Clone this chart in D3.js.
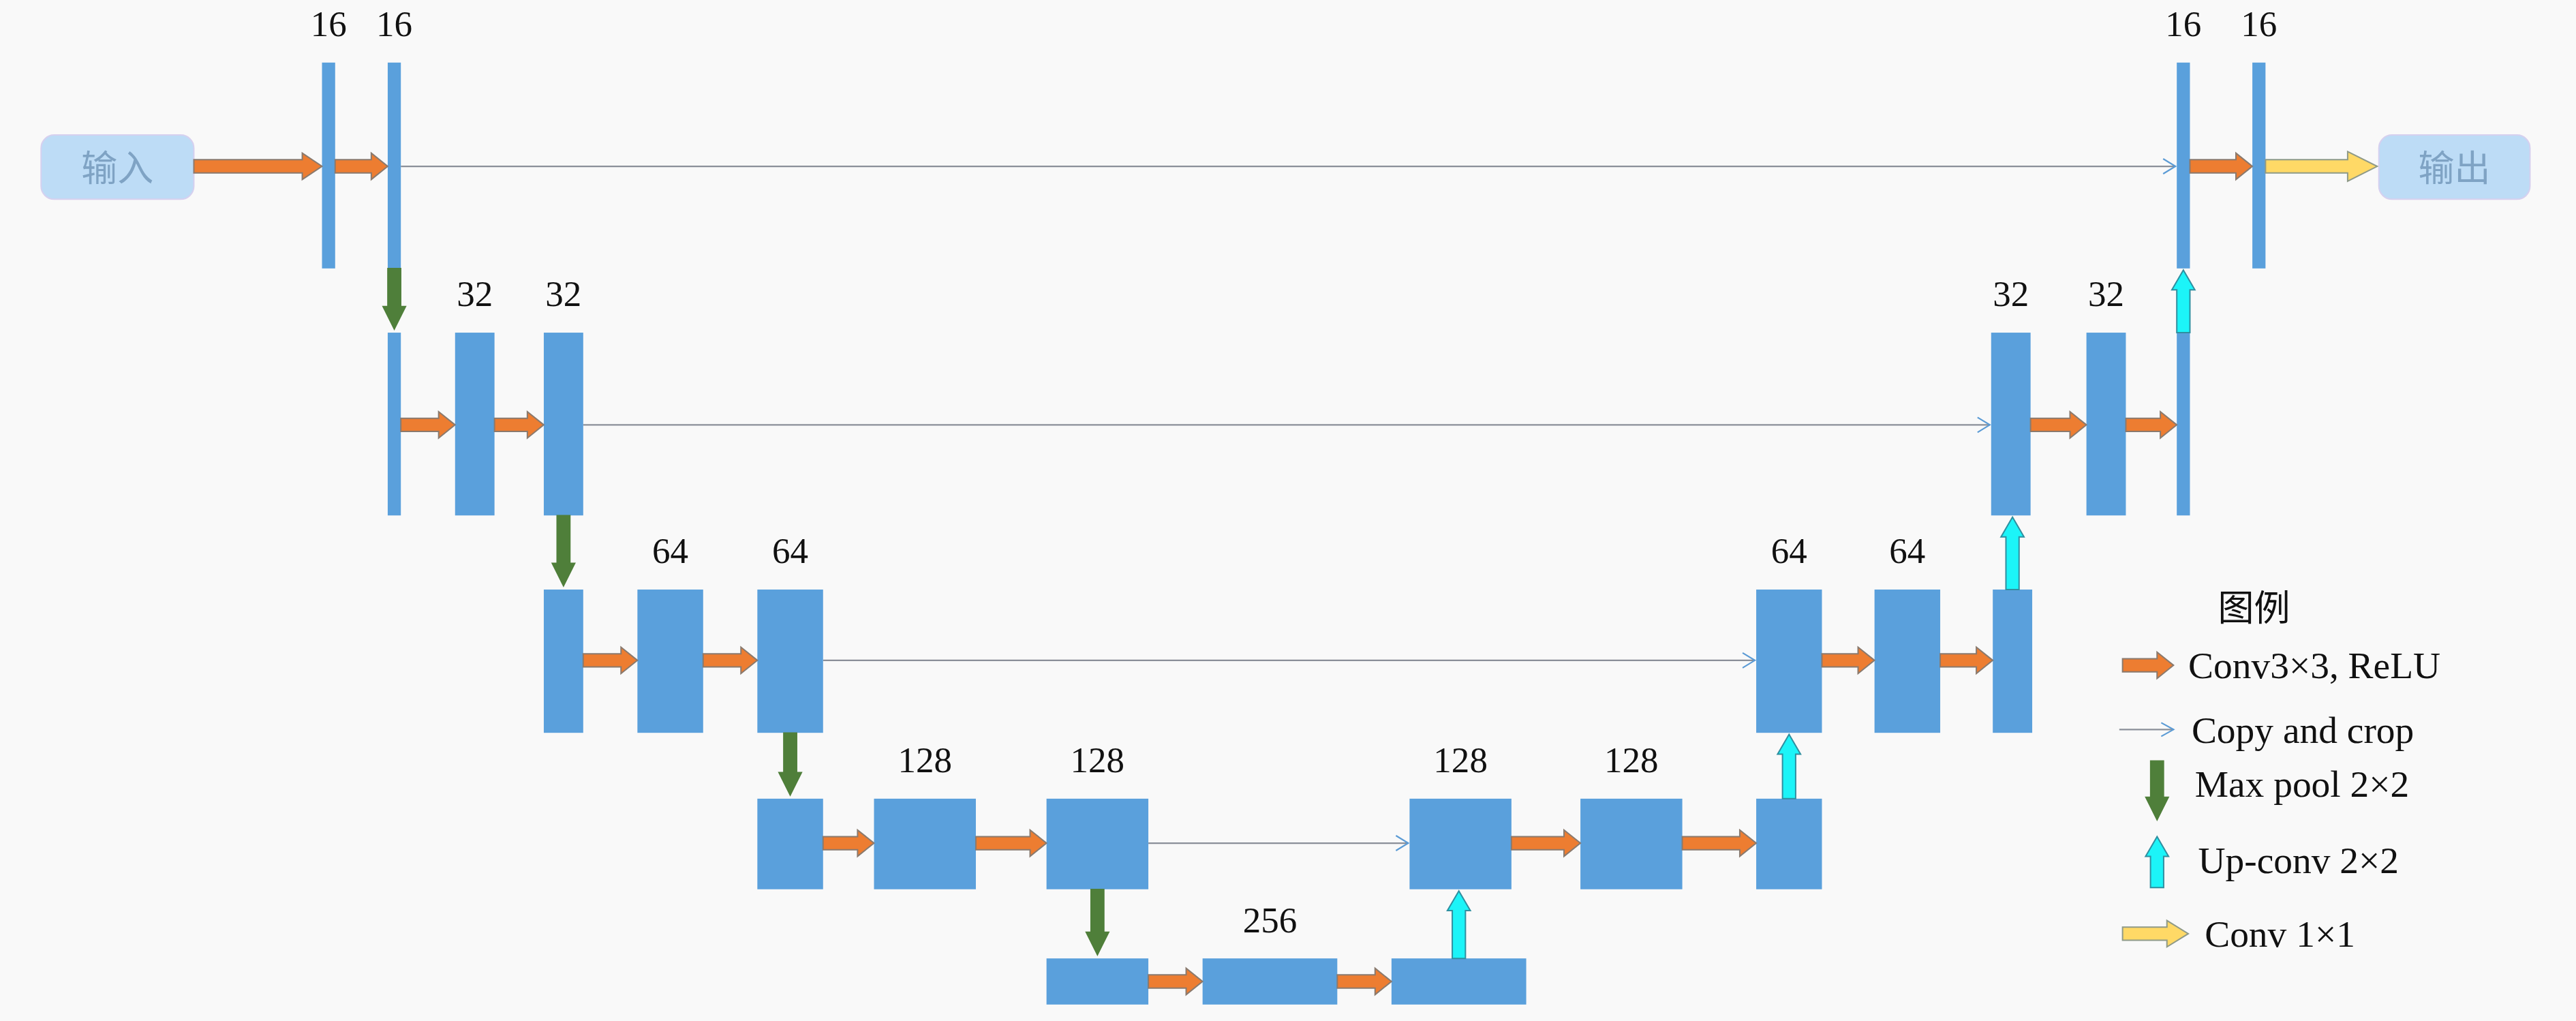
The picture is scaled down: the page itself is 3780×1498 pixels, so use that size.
<!DOCTYPE html>
<html>
<head>
<meta charset="utf-8">
<script src="https://cdn.jsdelivr.net/npm/d3@7"></script>
<style>
  body { margin: 0; background: #f9f9f9; }
  text { font-family: "Liberation Serif", "DejaVu Serif", serif; }
</style>
</head>
<body>
<script>
// channel counts per block, encoder then decoder
var channelLabels = ['16', '16', '32', '32', '64', '64', '128', '128', '256', '128', '128', '64', '64', '32', '32', '16', '16']
var legendLabels = ['Conv3\u00d73, ReLU', 'Copy and crop', 'Max pool 2\u00d72', 'Up-conv 2\u00d72', 'Conv 1\u00d71']
var ioLabels = ['输入', '输出']

// layout (display units, 1568 x 620)
var levelY = [[38, 163], [202, 313], [358, 445], [485, 540], [582, 610]]
// blocks: [x0, x1, level, labelIndex or -1]
var blocks = [
  [196, 204, 0, 0], [236, 244, 0, 1],
  [236, 244, 1, -1], [277, 301, 1, 2], [331, 355, 1, 3],
  [331, 355, 2, -1], [388, 428, 2, 4], [461, 501, 2, 5],
  [461, 501, 3, -1], [532, 594, 3, 6], [637, 699, 3, 7],
  [637, 699, 4, -1], [732, 814, 4, 8], [847, 929, 4, -1],
  [858, 920, 3, 9], [962, 1024, 3, 10], [1069, 1109, 3, -1],
  [1069, 1109, 2, 11], [1141, 1181, 2, 12], [1213, 1237, 2, -1],
  [1212, 1236, 1, 13], [1270, 1294, 1, 14], [1325, 1333, 1, -1],
  [1325, 1333, 0, 15], [1371, 1379, 0, 16]
]
var convArrows = [[118, 196, 0], [204, 236, 0], [244, 277, 1], [301, 331, 1], [355, 388, 2], [428, 461, 2],
  [501, 532, 3], [594, 637, 3], [699, 732, 4], [814, 847, 4], [920, 962, 3], [1024, 1069, 3],
  [1109, 1141, 2], [1181, 1213, 2], [1236, 1270, 1], [1294, 1325, 1], [1333, 1371, 0]]
var copyLines = [[244, 1325, 0], [355, 1212, 1], [501, 1069, 2], [699, 858, 3]]
var poolArrows = [[240, 0], [343, 1], [481, 2], [668, 3]]
var upArrows = [[888, 4], [1089, 3], [1225, 2], [1329, 1]]
var midY = [101, 258, 401, 512, 596]

var W = 3780, H = 1498
var x = d3.scaleLinear().domain([0, 1568]).range([0, W])
var y = d3.scaleLinear().domain([0, 620]).range([0, H])
var k = W / 1568

var svg = d3.select('body').append('svg').attr('width', W).attr('height', H)
  .style('background', '#f9f9f9')

function hArrow(x0, x1, cy, shaft, head, headLen) {
  var hl = Math.min(headLen, (x1 - x0) * 0.5)
  return [[x0, cy - shaft], [x1 - hl, cy - shaft], [x1 - hl, cy - head], [x1, cy],
          [x1 - hl, cy + head], [x1 - hl, cy + shaft], [x0, cy + shaft]]
    .map(function(p) { return [x(p[0]), y(p[1])] })
}
function vArrow(cx, y0, y1, shaft, head, headLen) {
  var d = y1 > y0 ? 1 : -1
  var b = y1 - d * headLen
  return [[cx - shaft, y0], [cx - shaft, b], [cx - head, b], [cx, y1], [cx + head, b], [cx + shaft, b], [cx + shaft, y0]]
    .map(function(p) { return [x(p[0]), y(p[1])] })
}
var line = d3.line()

// io boxes
var io = [[25, 118], [1448, 1540]]
io.forEach(function(b, i) {
  svg.append('rect').attr('x', x(b[0])).attr('y', y(82)).attr('width', x(b[1]) - x(b[0]))
    .attr('height', y(121) - y(82)).attr('rx', 8 * k).attr('fill', '#bddcf6')
    .attr('stroke', '#d6d0ef').attr('stroke-width', 2)
  svg.append('text').attr('x', x((b[0] + b[1]) / 2)).attr('y', y(110))
    .attr('text-anchor', 'middle').attr('font-size', 22 * k).attr('fill', '#7fa3c4')
    .style('font-family', '"Noto Sans CJK SC"').text(ioLabels[i])
})

// copy and crop lines
copyLines.forEach(function(c) {
  var yy = y(midY[c[2]])
  svg.append('line').attr('x1', x(c[0])).attr('x2', x(c[1]) - 2).attr('y1', yy).attr('y2', yy)
    .attr('stroke', '#8a8f99').attr('stroke-width', 2.2)
  svg.append('path').attr('d', line([[x(c[1]) - 20, yy - 11], [x(c[1]) - 2, yy], [x(c[1]) - 20, yy + 11]]))
    .attr('fill', 'none').attr('stroke', '#5b9bd5').attr('stroke-width', 2.2)
})

// blocks
svg.selectAll('rect.block').data(blocks).enter().append('rect').attr('class', 'block')
  .attr('x', function(d) { return x(d[0]) })
  .attr('width', function(d) { return x(d[1]) - x(d[0]) })
  .attr('y', function(d) { return y(levelY[d[2]][0]) })
  .attr('height', function(d) { return y(levelY[d[2]][1]) - y(levelY[d[2]][0]) })
  .attr('fill', '#5aa0dc')

svg.selectAll('text.ch').data(blocks.filter(function(d) { return d[3] >= 0 })).enter()
  .append('text').attr('class', 'ch')
  .attr('x', function(d) { return x((d[0] + d[1]) / 2) })
  .attr('y', function(d) { return y(levelY[d[2]][0] - 16) })
  .attr('text-anchor', 'middle').attr('font-size', 22 * k).attr('fill', '#111')
  .text(function(d) { return channelLabels[d[3]] })

// conv arrows
convArrows.forEach(function(a, i) {
  var first = i === 0
  svg.append('path').attr('d', line(hArrow(a[0], a[1], midY[a[2]], first ? 4 : 4, 8, first ? 12 : 10)) + 'Z')
    .attr('fill', '#ed7d31').attr('stroke', '#8a7a6e').attr('stroke-width', 2)
})
// conv 1x1
svg.append('path').attr('d', line(hArrow(1379, 1447, 101, 4, 9, 18)) + 'Z')
  .attr('fill', '#ffd966').attr('stroke', '#8f9a88').attr('stroke-width', 2)

poolArrows.forEach(function(a) {
  svg.append('path').attr('d', line(vArrow(a[0], levelY[a[1]][1], levelY[a[1] + 1][0] - 2, 4, 7, 14)) + 'Z')
    .attr('fill', '#4f7f3a').attr('stroke', '#4f7f3a').attr('stroke-width', 1.5)
})
upArrows.forEach(function(a) {
  svg.append('path').attr('d', line(vArrow(a[0], levelY[a[1]][0], levelY[a[1] - 1][1] + 1, 4, 7, 12)) + 'Z')
    .attr('fill', '#1cf4f8').attr('stroke', '#2f8fa0').attr('stroke-width', 2)
})

// legend
svg.append('text').attr('x', x(1350)).attr('y', y(377)).attr('font-size', 22 * k)
  .style('font-family', '"Noto Sans CJK SC"').attr('fill', '#111').text('图例')
var legY = [404, 443, 476, 522, 567]
var legX = [1332, 1334, 1336, 1338, 1342]
svg.append('path').attr('d', line(hArrow(1292, 1323, 404, 4, 8, 10)) + 'Z')
  .attr('fill', '#ed7d31').attr('stroke', '#8a7a6e').attr('stroke-width', 2)
svg.append('line').attr('x1', x(1290)).attr('x2', x(1323)).attr('y1', y(443)).attr('y2', y(443))
  .attr('stroke', '#8a8f99').attr('stroke-width', 2.2)
svg.append('path').attr('d', line([[x(1323) - 18, y(443) - 10], [x(1323), y(443)], [x(1323) - 18, y(443) + 10]]))
  .attr('fill', 'none').attr('stroke', '#5b9bd5').attr('stroke-width', 2.2)
svg.append('path').attr('d', line(vArrow(1313, 462, 498, 4, 7, 14)) + 'Z')
  .attr('fill', '#4f7f3a').attr('stroke', '#4f7f3a').attr('stroke-width', 1.5)
svg.append('path').attr('d', line(vArrow(1313, 539, 508, 4, 7, 12)) + 'Z')
  .attr('fill', '#1cf4f8').attr('stroke', '#2f8fa0').attr('stroke-width', 2)
svg.append('path').attr('d', line(hArrow(1292, 1332, 567, 4, 8, 13)) + 'Z')
  .attr('fill', '#ffd966').attr('stroke', '#8f9a88').attr('stroke-width', 2)

svg.selectAll('text.leg').data(legendLabels).enter().append('text').attr('class', 'leg')
  .attr('x', function(d, i) { return x(legX[i]) })
  .attr('y', function(d, i) { return y(legY[i] + 8) })
  .attr('font-size', 23 * k).attr('fill', '#111').text(function(d) { return d })
</script>
</body>
</html>
